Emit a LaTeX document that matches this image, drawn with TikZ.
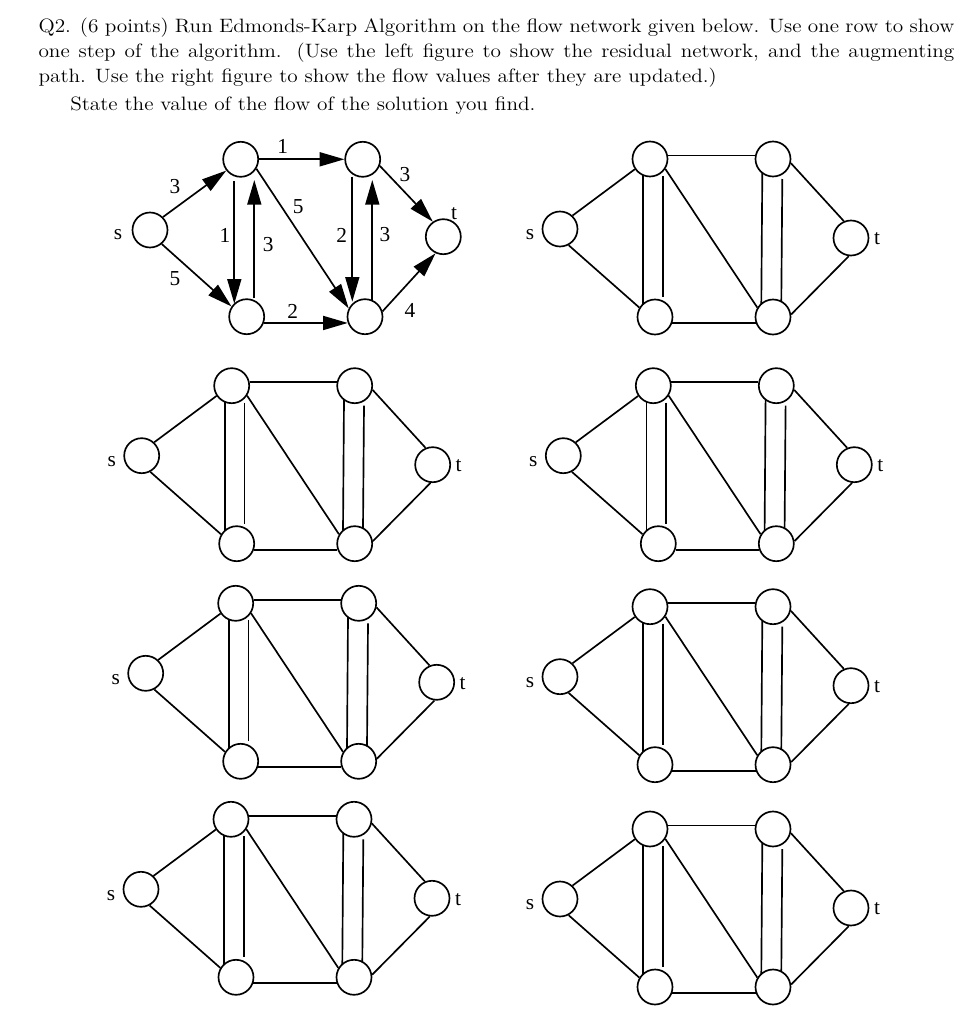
\documentclass[tikz,border=0pt]{standalone}
\usepackage{fontspec}
\usetikzlibrary{arrows.meta,calc}
\newfontfamily\headfont{lmroman12-regular.otf}[FakeStretch=1.1]
\newfontfamily\gfont{Liberation Serif}
\tikzset{
  vtx/.style={circle, draw, line width=1.25pt, minimum size=26.25pt, inner sep=0pt, fill=white},
  edge/.style={line width=1.25pt},
  arc/.style={line width=1.25pt, -{Triangle[length=18.5pt,width=10.5pt]}},
  lbl/.style={font=\gfont\fontsize{16}{16}\selectfont, inner sep=0pt},
  hline/.style={anchor=base west, inner sep=0pt, font=\headfont\fontsize{14.5}{17}\selectfont},
  ugraph/.pic={
    \node[vtx] (s) at (0,0) {};
    \node[vtx] (A) at (90,-70) {};
    \node[vtx] (B) at (95,88) {};
    \node[vtx] (C) at (213,-70) {};
    \node[vtx] (D) at (213,88) {};
    \node[vtx] (t) at (291,9) {};
    \node[lbl] (sl) at (-30,6) {s};
    \node[lbl] (tl) at (317,10) {t};
    \draw[edge] (s.47) -- (A.214);
    \draw[edge] (s.-62) -- (B.149);
    \draw[edge] (A.11) -- (C.169);
    \draw[edge] (B.-19) -- (D.199);
    \draw[edge] (A.-33) -- (D.149);
    \draw[edge] (C.-13) -- (t.113);
    \draw[edge] (D.8) -- (t.-97);
    \draw[edge] ($(A)+(-6.7,16.2)$) -- ($(B)+(-11.7,-13)$);
    \draw[edge] ($(A)+(12.7,17)$) -- ($(B)+(7.7,-20)$);
    \draw[edge] ($(C)+(-10.7,13.9)$) -- ($(D)+(-11.7,-13)$);
    \draw[edge] ($(C)+(9.3,20)$) -- ($(D)+(8.3,-15.4)$);
  }
}
\begin{document}
\begin{tikzpicture}[x=0.75pt,y=-0.75pt]
\useasboundingbox (0,0) rectangle (978,1024);
% header text
\node[hline] (q1) at (38.3,32.3) {\makebox[686.8pt][s]{Q2. (6 points) Run Edmonds-Karp Algorithm on the flow network given below. Use one row to show}};
\node[hline] (q2) at (38.3,57.3) {\makebox[686.8pt][s]{one step of the algorithm. (Use the left figure to show the residual network, and the augmenting}};
\node[hline] (q3) at (38.3,82.7) {path. Use the right figure to show the flow values after they are updated.)};
\node[hline] (q4) at (70,110.3) {State the value of the flow of the solution you find.};
% directed flow network
\node[vtx] (s0) at (150,230) {};
\node[vtx] (a0) at (240.7,159.3) {};
\node[vtx] (b0) at (246.7,316.7) {};
\node[vtx] (c0) at (362.7,159.3) {};
\node[vtx] (d0) at (365,316.7) {};
\node[vtx] (t0) at (443.3,236.7) {};
\node[lbl] (s0l) at (118,235) {s};
\node[lbl] (t0l) at (454,214) {t};
\draw[arc] (s0.45) -- (a0.218);
\draw[arc] (s0.-50) -- (b0.146);
\draw[arc] (a0.0) -- (c0.180);
\draw[arc] (b0.-20) -- (d0.200);
\draw[arc] (a0.-31) -- (d0.153);
\draw[arc] (c0.-21) -- (t0.125);
\draw[arc] (d0.17) -- (t0.-115);
\draw[arc] ($(a0)+(-6.4,22)$) -- ($(b0)+(-12.4,-13)$);
\draw[arc] ($(b0)+(7.6,-18.4)$) -- ($(a0)+(13.6,20.7)$);
\draw[arc] ($(c0)+(-10.4,17.4)$) -- ($(d0)+(-12.7,-15)$);
\draw[arc] ($(d0)+(7.3,-16.7)$) -- ($(c0)+(9.6,20.7)$);
\node[lbl] (w1) at (175,186.7) {3};
\node[lbl] (w2) at (175,278.3) {5};
\node[lbl] (w3) at (282.7,146.7) {1};
\node[lbl] (w4) at (225,235) {1};
\node[lbl] (w5) at (268.3,245) {3};
\node[lbl] (w6) at (298.3,206.7) {5};
\node[lbl] (w7) at (292.7,311.7) {2};
\node[lbl] (w8) at (341.7,235) {2};
\node[lbl] (w9) at (385,235) {3};
\node[lbl] (w10) at (405,175) {3};
\node[lbl] (w11) at (410,310) {4};
% blank graphs
\pic (g1) at (560,229) {ugraph};
\pic (g2) at (141.7,455.7) {ugraph};
\pic (g3) at (563.3,455.7) {ugraph};
\pic (g4) at (145.7,673.3) {ugraph};
\pic (g5) at (560,676.7) {ugraph};
\pic (g6) at (141,889.3) {ugraph};
\pic (g7) at (560,899) {ugraph};
\end{tikzpicture}
\end{document}
